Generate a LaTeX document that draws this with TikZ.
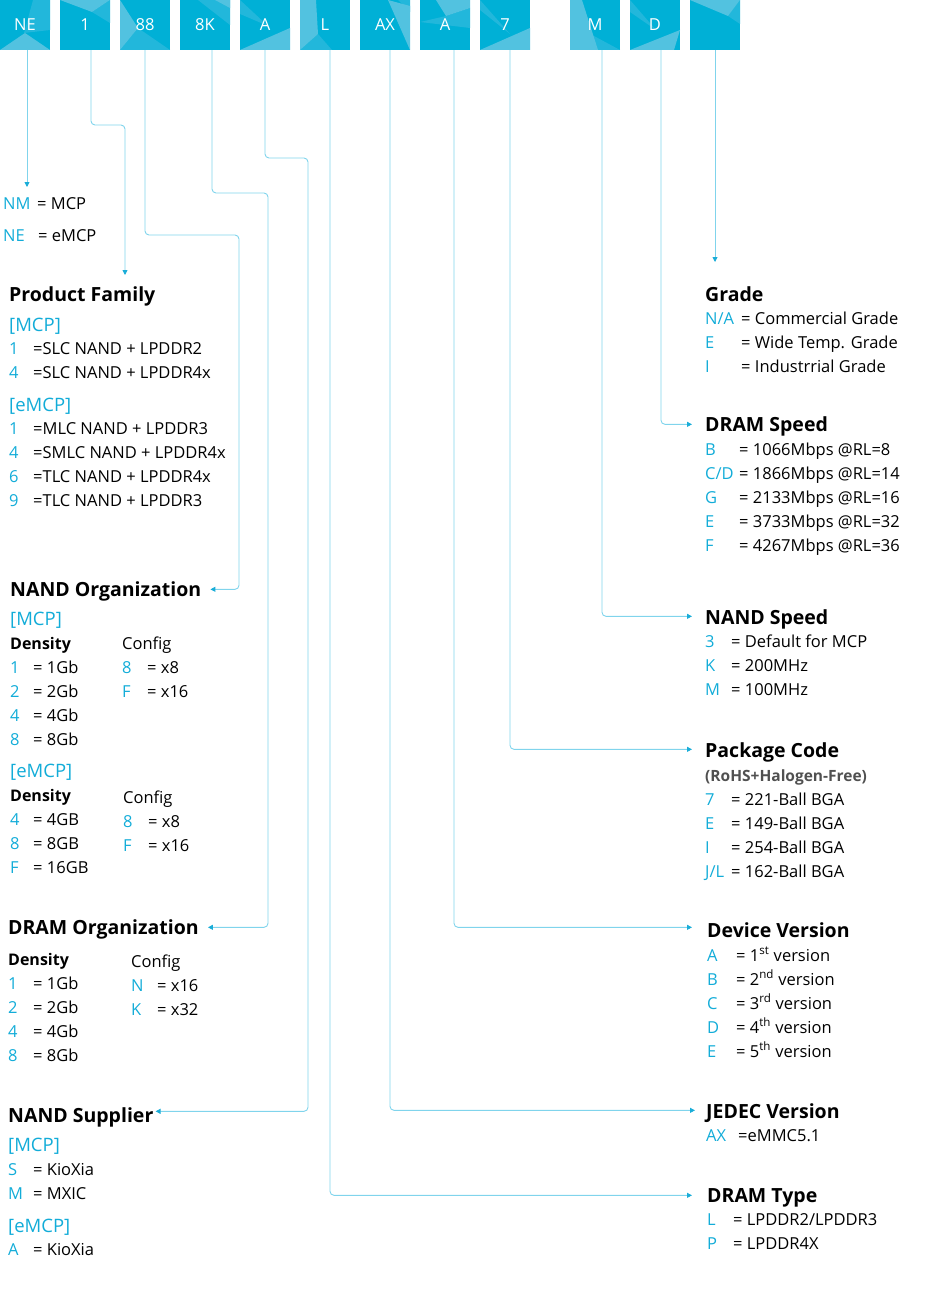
\documentclass[tikz,border=0pt]{standalone}
\usepackage{fontspec}
\setmainfont{Open Sans}
\usetikzlibrary{arrows.meta}

\definecolor{brand}{HTML}{00B0D6}
\definecolor{brandmid}{HTML}{22B7DB}
\definecolor{brandlight}{HTML}{52C2E0}
\definecolor{keycol}{HTML}{12ACD8}
\definecolor{wire}{HTML}{80D4EC}
\definecolor{tipcol}{HTML}{1AADD8}
\definecolor{notecol}{HTML}{505050}

\begin{document}
\begin{tikzpicture}[x=1pt, y=-1pt,
	every node/.style={inner sep=0pt, anchor=base west, font=\fontsize{16.5}{18}\selectfont},
	box/.style={anchor=center, minimum size=50pt, text=white, font=\fontsize{16.5}{18}\selectfont},
	head/.style={font=\fontsize{19.5}{24}\selectfont\bfseries},
	sub/.style={text=keycol, font=\fontsize{18.5}{20}\selectfont},
	key/.style={text=keycol},
	den/.style={font=\fontsize{16}{18}\selectfont\bfseries},
	link/.style={wire, line width=0.9pt, rounded corners=4pt, -{Triangle[length=5pt,width=5pt,color=tipcol]}},
	gap/.style={shorten >=#1}]
	\useasboundingbox (0,0) rectangle (929,1306);

	% faceted squares behind the code letters
	\foreach \x/\lt/\md in {
		0/{(0,50)--(25,33)--(50,50)--cycle}/{(33,0)--(50,0)--(50,30)--(24,33)--cycle},
		60/{(0,0)--(50,0)--(32,12)--cycle}/{(32,12)--(50,0)--(50,23)--cycle},
		120/{(0,0)--(18,28)--(0,50)--cycle}/{(0,50)--(18,28)--(50,50)--cycle},
		180/{(35,0)--(50,0)--(50,8)--cycle}/{(18,0)--(50,0)--(50,25)--cycle},
		240/{(0,50)--(50,28)--(50,50)--cycle}/{(0,0)--(0,14)--(28,26)--cycle},
		300/{(0,0)--(16,0)--(18,34)--(0,50)--cycle}/{(0,50)--(18,34)--(32,50)--cycle},
		360/{(28,0)--(50,6)--(50,50)--cycle}/{(38,0)--(50,0)--(50,12)--cycle},
		420/{(16,0)--(50,0)--(50,8)--(26,16)--cycle}/{(0,22)--(26,16)--(50,8)--(50,28)--cycle},
		480/{(0,50)--(50,28)--(50,50)--cycle}/{(0,0)--(0,10)--(30,34)--cycle},
		570/{(0,0)--(12,0)--(28,50)--(0,50)--cycle}/{(0,50)--(24,36)--(50,50)--cycle},
		630/{(0,50)--(50,30)--(44,50)--cycle}/{(0,0)--(0,12)--(26,30)--cycle},
		690/{(0,0)--(50,0)--(38,16)--cycle}/{(38,16)--(50,0)--(50,24)--cycle}}{
		\begin{scope}[shift={(\x,0)}]
			\fill[brand] (0,0) rectangle (50,50);
			\fill[brandmid] \md;
			\fill[brandlight] \lt;
		\end{scope}}

	% code letters
	\node[box] (bNE) at (25,25) {NE};
	\node[box] (bPF) at (85,25) {1};
	\node[box] (bNO) at (145,25) {88};
	\node[box] (bDO) at (205,25) {8K};
	\node[box] (bNS) at (265,25) {A};
	\node[box] (bDT) at (325,25) {L};
	\node[box] (bJV) at (385,25) {AX};
	\node[box] (bDV) at (445,25) {A};
	\node[box] (bPC) at (505,25) {7};
	\node[box] (bSP) at (595,25) {M};
	\node[box] (bDS) at (655,25) {D};
	\node[box] (bGR) at (715,25) {};

	% left column
	\node[key] (nm-k) at (3,209) {NM};
	\node (nm-v) at (37,209) {= MCP};
	\node[key] (ne-k) at (3,241) {NE};
	\node (ne-v) at (38,241) {= eMCP};

	\node[head] (pf) at (9,301) {Product Family};
	\node[sub] (pf-mcp) at (9,331) {[MCP]};
	\foreach \k/\v [count=\i from 0] in {1/=SLC NAND + LPDDR2, 4/=SLC NAND + LPDDR4x}{
		\node[key] (pf-a\i) at (9,{354+24*\i}) {\k};
		\node (pf-av\i) at (33,{354+24*\i}) {\v};}
	\node[sub] (pf-emcp) at (9,411) {[eMCP]};
	\foreach \k/\v [count=\i from 0] in {1/=MLC NAND + LPDDR3, 4/=SMLC NAND + LPDDR4x, 6/=TLC NAND + LPDDR4x, 9/=TLC NAND + LPDDR3}{
		\node[key] (pf-b\i) at (9,{434+24*\i}) {\k};
		\node (pf-bv\i) at (33,{434+24*\i}) {\v};}

	\node[head] (no) at (10,596) {NAND Organization};
	\node[sub] (no-mcp) at (10,625) {[MCP]};
	\node[den] (no-den) at (10,649) {Density};
	\node (no-cfg) at (122,649) {Config};
	\foreach \k/\v [count=\i from 0] in {1/= 1Gb, 2/= 2Gb, 4/= 4Gb, 8/= 8Gb}{
		\node[key] (no-a\i) at (10,{673+24*\i}) {\k};
		\node (no-av\i) at (33,{673+24*\i}) {\v};}
	\foreach \k/\v [count=\i from 0] in {8/= x8, F/= x16}{
		\node[key] (no-c\i) at (122,{673+24*\i}) {\k};
		\node (no-cv\i) at (147,{673+24*\i}) {\v};}
	\node[sub] (no-emcp) at (10,777) {[eMCP]};
	\node[den] (no-den2) at (10,801) {Density};
	\node (no-cfg2) at (123,803) {Config};
	\foreach \k/\v [count=\i from 0] in {4/= 4GB, 8/= 8GB, F/= 16GB}{
		\node[key] (no-b\i) at (10,{825+24*\i}) {\k};
		\node (no-bv\i) at (33,{825+24*\i}) {\v};}
	\foreach \k/\v [count=\i from 0] in {8/= x8, F/= x16}{
		\node[key] (no-d\i) at (123,{827+24*\i}) {\k};
		\node (no-dv\i) at (148,{827+24*\i}) {\v};}

	\node[head] (do) at (8,934) {DRAM Organization};
	\node[den] (do-den) at (8,965) {Density};
	\node (do-cfg) at (131,967) {Config};
	\foreach \k/\v [count=\i from 0] in {1/= 1Gb, 2/= 2Gb, 4/= 4Gb, 8/= 8Gb}{
		\node[key] (do-a\i) at (8,{989+24*\i}) {\k};
		\node (do-av\i) at (33,{989+24*\i}) {\v};}
	\foreach \k/\v [count=\i from 0] in {N/= x16, K/= x32}{
		\node[key] (do-c\i) at (131,{991+24*\i}) {\k};
		\node (do-cv\i) at (157,{991+24*\i}) {\v};}

	\node[head] (ns) at (8,1122) {NAND Supplier};
	\node[sub] (ns-mcp) at (8,1151) {[MCP]};
	\foreach \k/\v [count=\i from 0] in {S/= KioXia, M/= MXIC}{
		\node[key] (ns-a\i) at (8,{1175+24*\i}) {\k};
		\node (ns-av\i) at (33,{1175+24*\i}) {\v};}
	\node[sub] (ns-emcp) at (8,1232) {[eMCP]};
	\node[key] (ns-b0) at (8,1255) {A};
	\node (ns-bv0) at (33,1255) {= KioXia};

	% right column
	\node[head] (gr) at (705,301) {Grade};
	\foreach \k/\v [count=\i from 0] in {{N/A}/= Commercial Grade, E/= Wide Temp. Grade, I/= Industrrial Grade}{
		\node[key] (gr-a\i) at (705,{324+24*\i}) {\k};
		\node (gr-av\i) at (741,{324+24*\i}) {\v};}

	\node[head] (ds) at (705,431) {DRAM Speed};
	\foreach \k/\v [count=\i from 0] in {B/= 1066Mbps @RL=8, {C/D}/= 1866Mbps @RL=14, G/= 2133Mbps @RL=16, E/= 3733Mbps @RL=32, F/= 4267Mbps @RL=36}{
		\node[key] (ds-a\i) at (705,{455+24*\i}) {\k};
		\node (ds-av\i) at (739,{455+24*\i}) {\v};}

	\node[head] (sp) at (705,624) {NAND Speed};
	\foreach \k/\v [count=\i from 0] in {3/= Default for MCP, K/= 200MHz, M/= 100MHz}{
		\node[key] (sp-a\i) at (705,{647+24*\i}) {\k};
		\node (sp-av\i) at (731,{647+24*\i}) {\v};}

	\node[head] (pc) at (705,757) {Package Code};
	\node[text=notecol, font=\fontsize{15.5}{18}\selectfont\bfseries] (pc-note) at (705,781) {(RoHS+Halogen-Free)};
	\foreach \k/\v [count=\i from 0] in {7/= 221-Ball BGA, E/= 149-Ball BGA, I/= 254-Ball BGA, {J/L}/= 162-Ball BGA}{
		\node[key] (pc-a\i) at (705,{805+24*\i}) {\k};
		\node (pc-av\i) at (731,{805+24*\i}) {\v};}

	\node[head] (dv) at (707,937) {Device Version};
	\foreach \k/\s [count=\i from 0] in {A/1\textsuperscript{st}, B/2\textsuperscript{nd}, C/3\textsuperscript{rd}, D/4\textsuperscript{th}, E/5\textsuperscript{th}}{
		\node[key] (dv-a\i) at (707,{961+24*\i}) {\k};
		\node (dv-av\i) at (736,{961+24*\i}) {= \s{} version};}

	\node[head] (jv) at (706,1118) {JEDEC Version};
	\node[key] (jv-a0) at (706,1141) {AX};
	\node (jv-av0) at (738,1141) {=eMMC5.1};

	\node[head] (dt) at (707,1202) {DRAM Type};
	\foreach \k/\v [count=\i from 0] in {L/{= LPDDR2/LPDDR3}, P/= LPDDR4X}{
		\node[key] (dt-a\i) at (707,{1225+24*\i}) {\k};
		\node (dt-av\i) at (733,{1225+24*\i}) {\v};}

	% arrow tips that end above a text
	\coordinate (nm-in) at (27,187);
	\coordinate (pf-in) at (125,275);
	\coordinate (gr-in) at (715,262);

	% connectors
	\draw[link] ([xshift=2pt]bNE.south) -- (nm-in);
	\draw[link] ([xshift=6pt]bPF.south) |- (125,125) -- (pf-in);
	\draw[link, gap=9pt] (bNO.south) |- (239,235) |- ([yshift=4pt]no.mid east);
	\draw[link, gap=9pt] ([xshift=7pt]bDO.south) |- (268,193) |- ([yshift=4pt]do.mid east);
	\draw[link, gap=2pt] (bNS.south) |- (308,158) |- ([yshift=8pt]ns.mid east);
	\draw[link, gap=15pt] ([xshift=5pt]bDT.south) |- ([yshift=4pt]dt.mid west);
	\draw[link, gap=11pt] ([xshift=5pt]bJV.south) |- ([yshift=5pt]jv.mid west);
	\draw[link, gap=15pt] ([xshift=9pt]bDV.south) |- ([yshift=7pt]dv.mid west);
	\draw[link, gap=13pt] ([xshift=5pt]bPC.south) |- ([yshift=5pt]pc.mid west);
	\draw[link, gap=13pt] ([xshift=7pt]bSP.south) |- ([yshift=5pt]sp.mid west);
	\draw[link, gap=13pt] ([xshift=6pt]bDS.south) |- ([yshift=4pt]ds.mid west);
	\draw[link] (bGR.south) -- (gr-in);
\end{tikzpicture}
\end{document}
